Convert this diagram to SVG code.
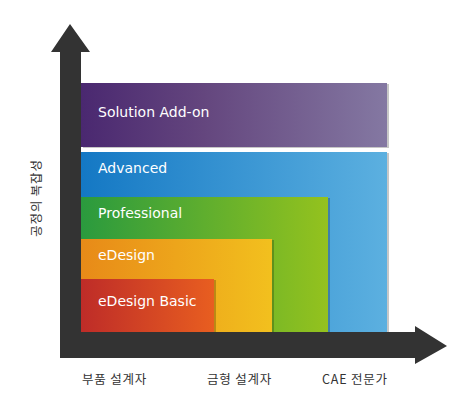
<svg xmlns="http://www.w3.org/2000/svg" width="474" height="415" viewBox="0 0 474 415">
<style>
.lbl{font-family:"DejaVu Sans","Liberation Sans",sans-serif;font-size:14px;fill:#ffffff}
.ax{font-family:"Noto Sans CJK KR","Liberation Sans",sans-serif;font-size:12.5px;fill:#333333;letter-spacing:0.8px}
.arrow{fill:#333333}
.sh{fill:#000000;opacity:0.22}
</style>
<defs>
<linearGradient id="gPurple" x1="0" y1="0" x2="1" y2="0"><stop offset="0" stop-color="#4a2870"/><stop offset="0.4" stop-color="#64467e"/><stop offset="1" stop-color="#8478a2"/></linearGradient>
<linearGradient id="gBlue" x1="0" y1="0" x2="1" y2="0"><stop offset="0" stop-color="#1478c4"/><stop offset="1" stop-color="#5cb0e0"/></linearGradient>
<linearGradient id="gGreen" x1="0" y1="0" x2="1" y2="0"><stop offset="0" stop-color="#2a9a3e"/><stop offset="1" stop-color="#94c21e"/></linearGradient>
<linearGradient id="gOrange" x1="0" y1="0" x2="1" y2="0"><stop offset="0" stop-color="#e88a18"/><stop offset="1" stop-color="#f2c01e"/></linearGradient>
<linearGradient id="gRed" x1="0" y1="0" x2="1" y2="0"><stop offset="0" stop-color="#be2c28"/><stop offset="1" stop-color="#e85e20"/></linearGradient>
</defs>
<g id="connectors">
<polygon class="arrow" points="60,358 60,52 51,52 70,24 90,52 81,52 81,332 415,332 415,326 447,346 415,364 415,358"/>
</g>
<g id="node-addon">
<rect class="sh" x="83" y="84" width="306" height="64"/>
<rect x="81" y="83" width="306" height="64" fill="url(#gPurple)"/>
<text class="lbl" x="98" y="117">Solution Add-on</text>
</g>
<g id="node-advanced">
<rect class="sh" x="83" y="153" width="306" height="179"/>
<rect x="81" y="152" width="306" height="180" fill="url(#gBlue)"/>
<text class="lbl" x="98" y="173">Advanced</text>
</g>
<g id="node-professional">
<rect class="sh" x="83" y="198" width="247" height="134"/>
<rect x="81" y="197" width="247" height="135" fill="url(#gGreen)"/>
<text class="lbl" x="98" y="218">Professional</text>
</g>
<g id="node-edesign">
<rect class="sh" x="83" y="240" width="191" height="92"/>
<rect x="81" y="239" width="191" height="93" fill="url(#gOrange)"/>
<text class="lbl" x="98" y="260">eDesign</text>
</g>
<g id="node-basic">
<rect class="sh" x="83" y="280" width="133" height="52"/>
<rect x="81" y="279" width="133" height="53" fill="url(#gRed)"/>
<text class="lbl" x="98" y="306">eDesign Basic</text>
</g>
<g id="axis-labels">
<text class="ax" x="82" y="384">부품 설계자</text>
<text class="ax" x="207" y="384">금형 설계자</text>
<text class="ax" x="322" y="384">CAE 전문가</text>
<text class="ax" x="0" y="0" text-anchor="middle" transform="translate(41,198) rotate(-90)">공정의 복잡성</text>
</g>
</svg>
